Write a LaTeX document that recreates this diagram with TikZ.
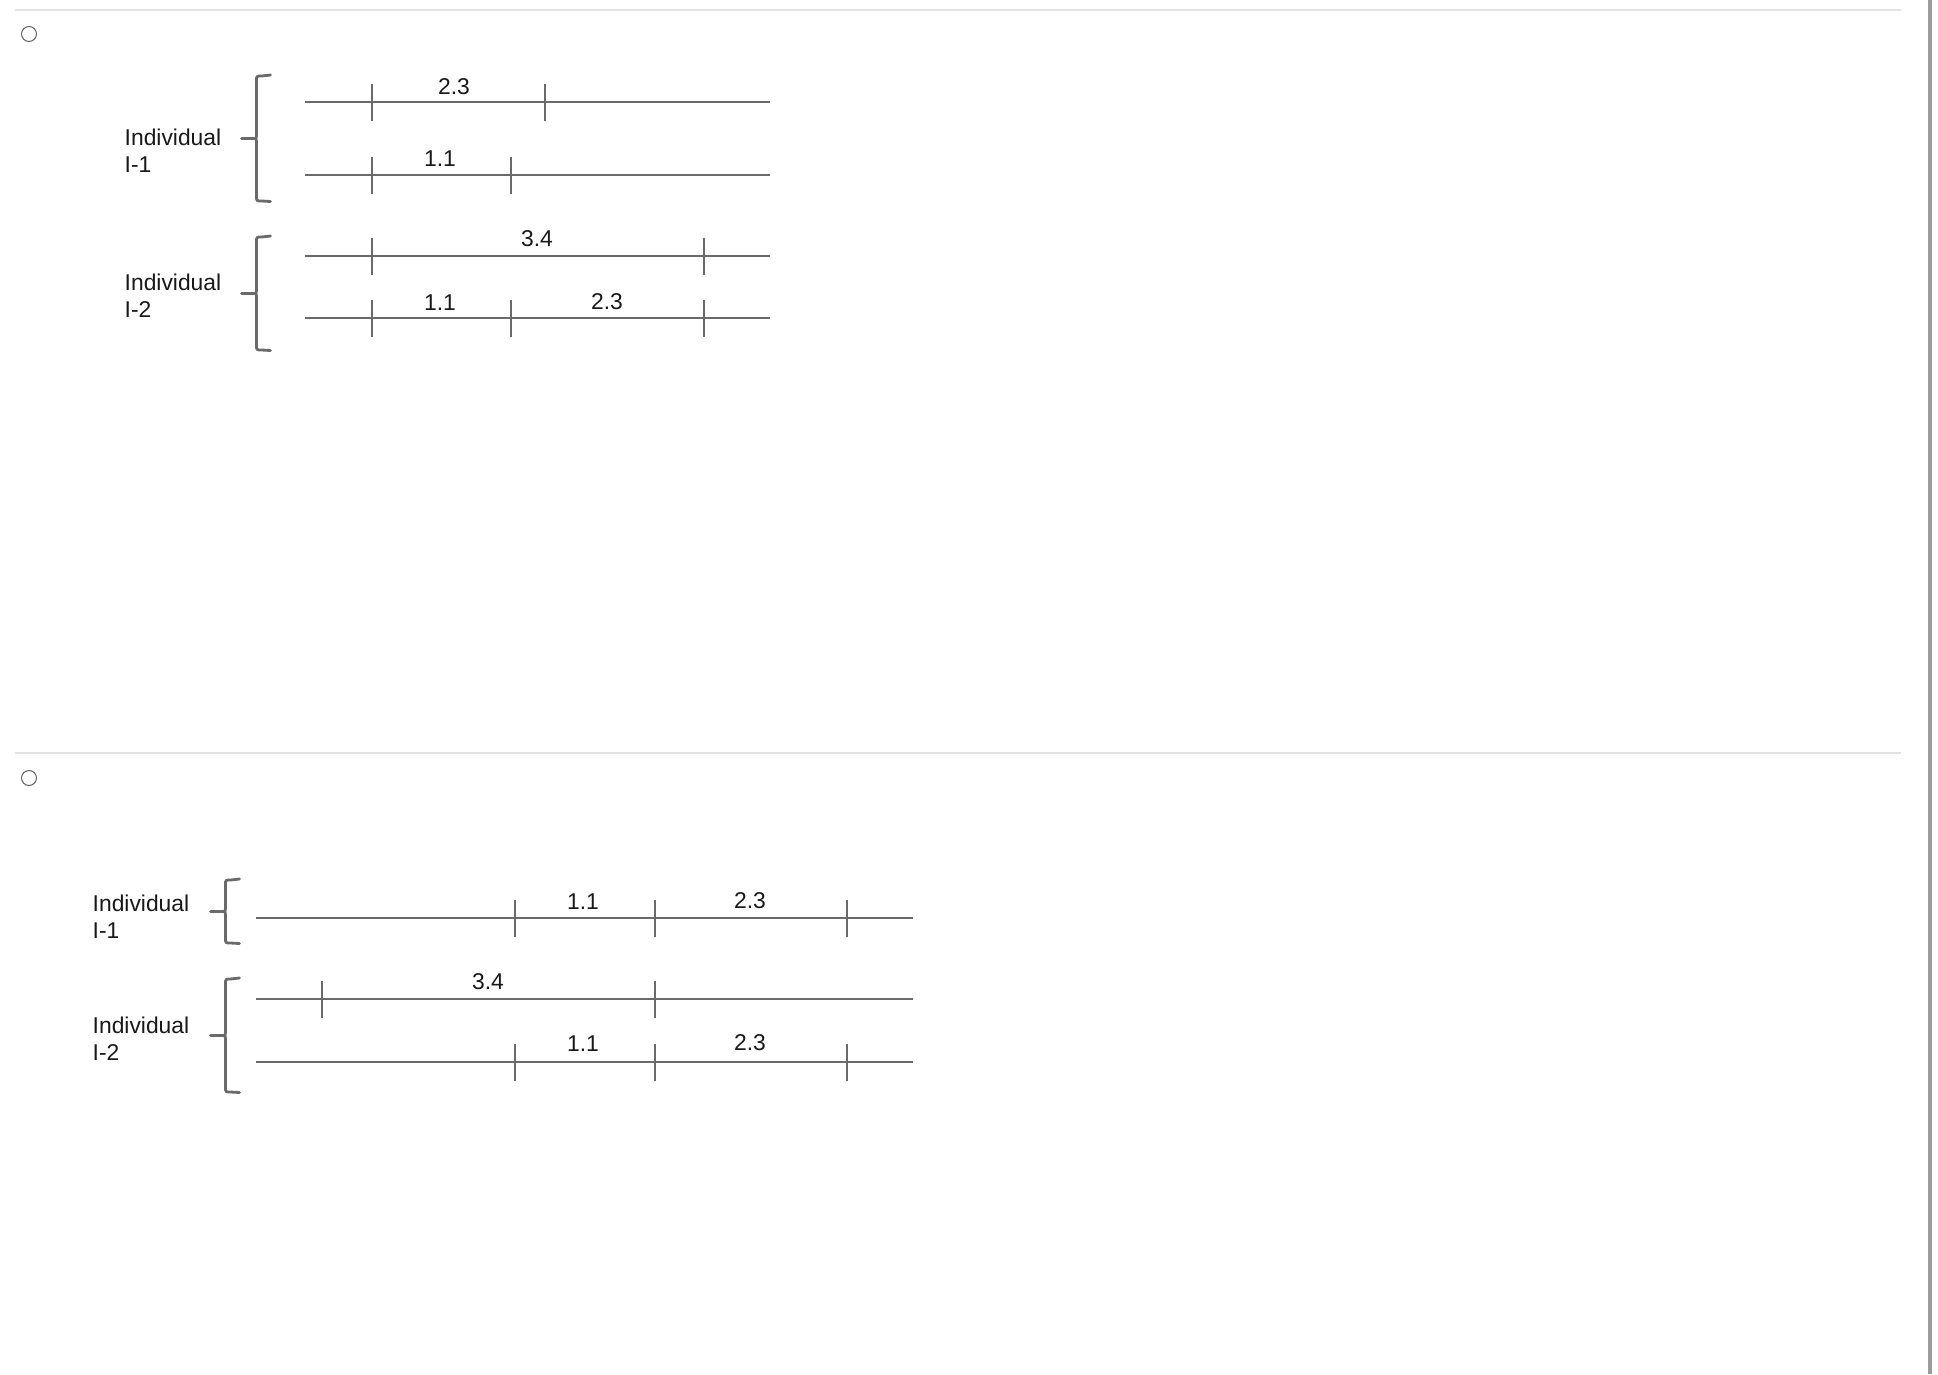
\documentclass[tikz,border=0pt]{standalone}
\usepackage{fontspec}
\setmainfont{Liberation Sans}
\usepackage{tikz}
\usetikzlibrary{positioning}
\definecolor{linegray}{HTML}{6A6A6A}
\definecolor{rulegray}{HTML}{E2E2E2}
\definecolor{bargray}{HTML}{9C9C9C}
\tikzstyle{track} = [draw=linegray, line width=0.65pt]
\tikzstyle{tickmark} = [draw=linegray, line width=0.45pt]
\tikzstyle{bracket} = [draw=linegray, line width=0.8pt, line join=round, line cap=round]
\tikzstyle{lbl} = [font=\fontsize{6.5}{7.7}\selectfont, inner sep=0pt, text=black!90]
\tikzstyle{indiv} = [lbl, align=left, anchor=west]
\tikzstyle{radio} = [circle, draw=black!60, line width=0.3pt, minimum size=0.15cm, inner sep=0pt]
% curly bracket: #1 = x of spine, #2 = top, #3 = bottom
\newcommand{\grpbrace}[3]{%
  \draw[bracket] ({#1+0.14},{#2+0.01}) -- ({#1+0.05},{#2}) .. controls ({#1},{#2}) .. ({#1},{#2-0.05})
    -- ({#1},{(#2+#3)/2+0.03}) .. controls ({#1},{(#2+#3)/2}) .. ({#1-0.04},{(#2+#3)/2})
    -- ({#1-0.15},{(#2+#3)/2});
  \draw[bracket] ({#1-0.04},{(#2+#3)/2}) .. controls ({#1},{(#2+#3)/2}) .. ({#1},{(#2+#3)/2-0.03})
    -- ({#1},{#3+0.05}) .. controls ({#1},{#3}) .. ({#1+0.05},{#3}) -- ({#1+0.14},{#3-0.005});}

\begin{document}
\begin{tikzpicture}
    \useasboundingbox[fill=white] (0,0) rectangle (19.38,-13.74);
    % page frame
    \draw[rulegray, line width=0.3pt] (0.15,-0.10) -- (19.01,-0.10);
    \draw[rulegray, line width=0.3pt] (0.15,-7.53) -- (19.01,-7.53);
    \draw[bargray, line width=0.9pt] (19.30,0) -- (19.30,-13.74);

    % first option
    \node[radio] (optA) at (0.29,-0.34) {};
    \grpbrace{2.565}{-0.76}{-2.01}
    \node[indiv] (indA1) at (1.24,-1.505) {Individual\\I-1};
    \draw[track] (3.05,-1.02) -- (7.70,-1.02);
    \foreach \x in {3.72,5.45} \draw[tickmark] (\x,-0.835) -- (\x,-1.205);
    \node[lbl] (valA1) at (4.54,-0.87) {2.3};
    \draw[track] (3.05,-1.75) -- (7.70,-1.75);
    \foreach \x in {3.72,5.11} \draw[tickmark] (\x,-1.565) -- (\x,-1.935);
    \node[lbl] (valA2) at (4.40,-1.59) {1.1};

    \grpbrace{2.565}{-2.37}{-3.50}
    \node[indiv] (indA2) at (1.24,-2.955) {Individual\\I-2};
    \draw[track] (3.05,-2.56) -- (7.70,-2.56);
    \foreach \x in {3.72,7.04} \draw[tickmark] (\x,-2.375) -- (\x,-2.745);
    \node[lbl] (valA3) at (5.37,-2.39) {3.4};
    \draw[track] (3.05,-3.18) -- (7.70,-3.18);
    \foreach \x in {3.72,5.11,7.04} \draw[tickmark] (\x,-2.995) -- (\x,-3.365);
    \node[lbl] (valA4) at (4.40,-3.03) {1.1};
    \node[lbl] (valA5) at (6.07,-3.02) {2.3};

    % second option
    \node[radio] (optB) at (0.29,-7.78) {};
    \grpbrace{2.255}{-8.80}{-9.43}
    \node[indiv] (indB1) at (0.92,-9.165) {Individual\\I-1};
    \draw[track] (2.56,-9.18) -- (9.13,-9.18);
    \foreach \x in {5.15,6.55,8.47} \draw[tickmark] (\x,-8.995) -- (\x,-9.365);
    \node[lbl] (valB1) at (5.83,-9.02) {1.1};
    \node[lbl] (valB2) at (7.50,-9.01) {2.3};

    \grpbrace{2.255}{-9.79}{-10.92}
    \node[indiv] (indB2) at (0.92,-10.39) {Individual\\I-2};
    \draw[track] (2.56,-9.99) -- (9.13,-9.99);
    \foreach \x in {3.22,6.55} \draw[tickmark] (\x,-9.805) -- (\x,-10.175);
    \node[lbl] (valB3) at (4.88,-9.82) {3.4};
    \draw[track] (2.56,-10.62) -- (9.13,-10.62);
    \foreach \x in {5.15,6.55,8.47} \draw[tickmark] (\x,-10.435) -- (\x,-10.805);
    \node[lbl] (valB4) at (5.83,-10.44) {1.1};
    \node[lbl] (valB5) at (7.50,-10.43) {2.3};
\end{tikzpicture}
\end{document}
